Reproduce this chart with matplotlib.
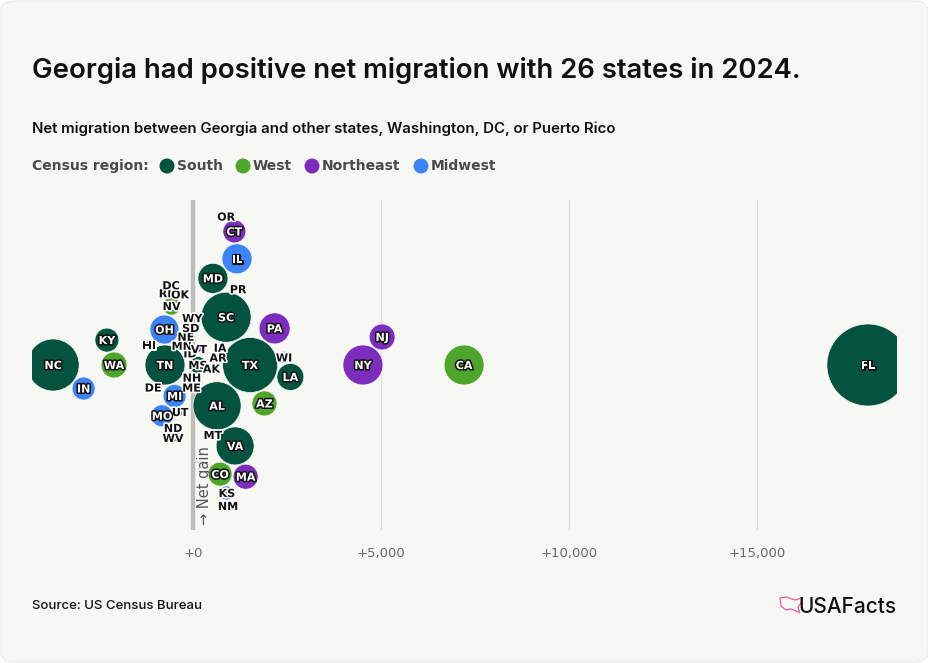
import numpy as np
import matplotlib
matplotlib.use("Agg")
import matplotlib.pyplot as plt
import matplotlib.patheffects as pe
from matplotlib.patches import FancyBboxPatch, Circle, Polygon

# ---- data ----
states = ["FL", "NC", "TX", "SC", "AL", "NY", "CA", "TN", "VA", "PA",
          "MD", "IL", "OH", "LA", "NJ", "WA", "MA", "AZ", "KY", "CO",
          "IN", "MI", "CT", "MO", "MS", "NV", "KS", "WI", "NM", "OR",
          "AR", "PR", "ND", "WV", "DE", "ID", "MN", "NH", "AK", "IA",
          "MT", "UT", "NE", "VT", "HI", "RI", "OK", "DC", "ME", "SD", "WY"]
region = ["South", "South", "South", "South", "South", "Northeast", "West", "South", "South", "Northeast",
          "South", "Midwest", "Midwest", "South", "Northeast", "West", "Northeast", "West", "South", "West",
          "Midwest", "Midwest", "Northeast", "Midwest", "South", "West", "Midwest", "Midwest", "West", "West",
          "South", "Other", "Midwest", "South", "South", "West", "Midwest", "Northeast", "West", "Midwest",
          "West", "West", "Midwest", "Northeast", "West", "Northeast", "South", "South", "Northeast", "Midwest", "West"]
# net migration into Georgia (people)
net = [17950, -3720, 1520, 880, 640, 4520, 7210, -745, 1120, 2170,
       530, 1170, -760, 2590, 5030, -2100, 1400, 1900, -2290, 720,
       -2910, -490, 1100, -825, 130, -570, 900, 2420, 930, 880,
       665, 1200, -530, -530, -1060, -80, -300, -30, 490, 720,
       530, -340, -190, 160, -1170, -745, -345, -585, -40, -60, -20]
# total movers between Georgia and the state (bubble size)
gross = [88000, 35400, 39600, 32700, 30200, 20900, 20900, 20900, 18900, 12600,
         11800, 11800, 11000, 9500, 8800, 8800, 8200, 8200, 7500, 7500,
         6900, 6900, 6900, 6300, 3800, 4200, 2600, 1900, 1300, 470,
         470, 470, 470, 840, 840, 470, 840, 470, 470, 840,
         210, 840, 470, 470, 840, 470, 840, 840, 210, 210, 210]

ticks = [0, 5000, 10000, 15000]
legend_regions = ["South", "West", "Northeast", "Midwest"]

COLORS = {"South": "#04533F", "West": "#4DA52A", "Northeast": "#7C2DBE",
          "Midwest": "#3A84F7", "Other": "#9A9A96"}
BG = "#F7F7F3"

W, H, DPI = 929, 663, 100
PX = 188 / 5000          # pixels per person along x
ZERO_PX = 193            # x pixel of zero
R_MAX = 41               # radius (px) of the biggest bubble
R_COLLIDE_MIN = 4.5      # tiny bubbles still keep some room for their label


def fx(px):
    return px / W


def fy(py):
    return 1 - py / H


def beeswarm(xpx, rad, pad=1.0):
    """Greedy beeswarm: biggest bubbles first, each as close to the centre line as it fits."""
    order = np.argsort(-rad, kind="stable")
    ys = np.zeros(len(xpx))
    placed = []
    for i in order:
        cands = [0.0]
        for j in placed:
            d = rad[i] + rad[j] + pad
            dx = xpx[i] - xpx[j]
            if abs(dx) < d:
                dy = np.sqrt(d * d - dx * dx)
                cands += [ys[j] + dy, ys[j] - dy]
        cands.sort(key=lambda c: (abs(c), -c))
        for c in cands:
            ok = all((xpx[i] - xpx[j]) ** 2 + (c - ys[j]) ** 2
                     >= (rad[i] + rad[j] + pad) ** 2 - 1e-6 for j in placed)
            if ok:
                ys[i] = c
                break
        placed.append(i)
    return ys


net_a = np.array(net, dtype=float)
rad = R_MAX * np.sqrt(np.array(gross, dtype=float) / max(gross))
ys = beeswarm(net_a * PX, np.maximum(rad, R_COLLIDE_MIN))

fig = plt.figure(figsize=(W / DPI, H / DPI), dpi=DPI)
fig.patch.set_facecolor("white")
fig.add_artist(FancyBboxPatch((fx(1), fy(662)), fx(927), 661 / H,
                              boxstyle="round,pad=0,rounding_size=0.015",
                              transform=fig.transFigure, facecolor=BG,
                              edgecolor="#EBEBE6", linewidth=0.8, zorder=0))

ax = fig.add_axes([fx(32), fy(530), fx(865), 330 / H])
ax.set_facecolor("none")
ax.set_xlim(-(ZERO_PX - 32) / PX, (897 - ZERO_PX) / PX)
ax.set_ylim(-165, 165)
for s in ax.spines.values():
    s.set_visible(False)
ax.set_yticks([])
ax.set_xticks(ticks)
ax.set_xticklabels([f"+{t:,}" for t in ticks], fontsize=9.5, color="#6A6A66",
                   family=["Liberation Sans Narrow", "DejaVu Sans"])
ax.tick_params(axis="x", length=0, pad=12)
for t in ticks[1:]:
    ax.axvline(t, color="#DCDCD8", linewidth=0.9, zorder=1)
ax.axvline(0, color="#BDBDBA", linewidth=3.2, zorder=1)

sizes = (2 * rad * 72 / DPI) ** 2
ax.scatter(net_a, ys, s=sizes, c=[COLORS[r] for r in region],
           edgecolors=BG, linewidths=0.5, zorder=3)

for st, x, y, r in zip(states, net_a, ys, rad):
    if r >= 9:
        ax.text(x, y, st, ha="center", va="center_baseline", fontsize=8, fontweight="bold",
                color="white", zorder=6,
                path_effects=[pe.withStroke(linewidth=2.2, foreground="#111111")])
    else:
        ax.text(x, y, st, ha="center", va="center_baseline", fontsize=8, fontweight="bold",
                color="#111111", zorder=5,
                path_effects=[pe.withStroke(linewidth=2.2, foreground="white")])

fig.text(fx(205), fy(486), "\u2192 Net gain", rotation=90, ha="center", va="center",
         fontsize=10.5, color="#555552")

# ---- titles ----
fig.text(fx(32), fy(78), "Georgia had positive net migration with 26 states in 2024.",
         fontsize=19.8, fontweight="semibold", family="Inter", color="#111111", va="baseline")
fig.text(fx(32), fy(133), "Net migration between Georgia and other states, Washington, DC, or Puerto Rico",
         fontsize=10.8, fontweight="semibold", family="Inter", color="#111111", va="baseline")

# ---- legend ----
fig.text(fx(32), fy(166), "Census region:", fontsize=10, fontweight="bold",
         family="DejaVu Sans", color="#4A4A48", va="center")
leg_x = [167, 243, 312, 421]
for reg, cx in zip(legend_regions, leg_x):
    fig.add_artist(Circle((cx / DPI, (H - 166) / DPI), 7.5 / DPI, transform=fig.dpi_scale_trans,
                          facecolor=COLORS[reg], edgecolor="none"))
    fig.text(fx(cx + 10), fy(166), reg, fontsize=10, fontweight="bold", family="DejaVu Sans",
             color="#4A4A48", va="center")

# ---- footer ----
fig.text(fx(32), fy(609), "Source: US Census Bureau", fontsize=9.5, fontweight="medium",
         family="Inter", color="#111111", va="baseline")
fig.text(fx(897), fy(613), "USAFacts", fontsize=15, fontweight="medium", family="Inter",
         color="#111111", ha="right", va="baseline")
usa = np.array([[780, 598], [786, 597], [795, 600], [802, 598], [801, 603], [798, 607],
                [800, 613], [796, 611], [791, 609], [786, 610], [781, 606]])
fig.add_artist(Polygon(np.c_[usa[:, 0] / DPI, (H - usa[:, 1]) / DPI], closed=True,
                       transform=fig.dpi_scale_trans, facecolor="none",
                       edgecolor="#EE5C9F", linewidth=0.9))

fig.savefig("out.png", dpi=DPI, facecolor="white")
